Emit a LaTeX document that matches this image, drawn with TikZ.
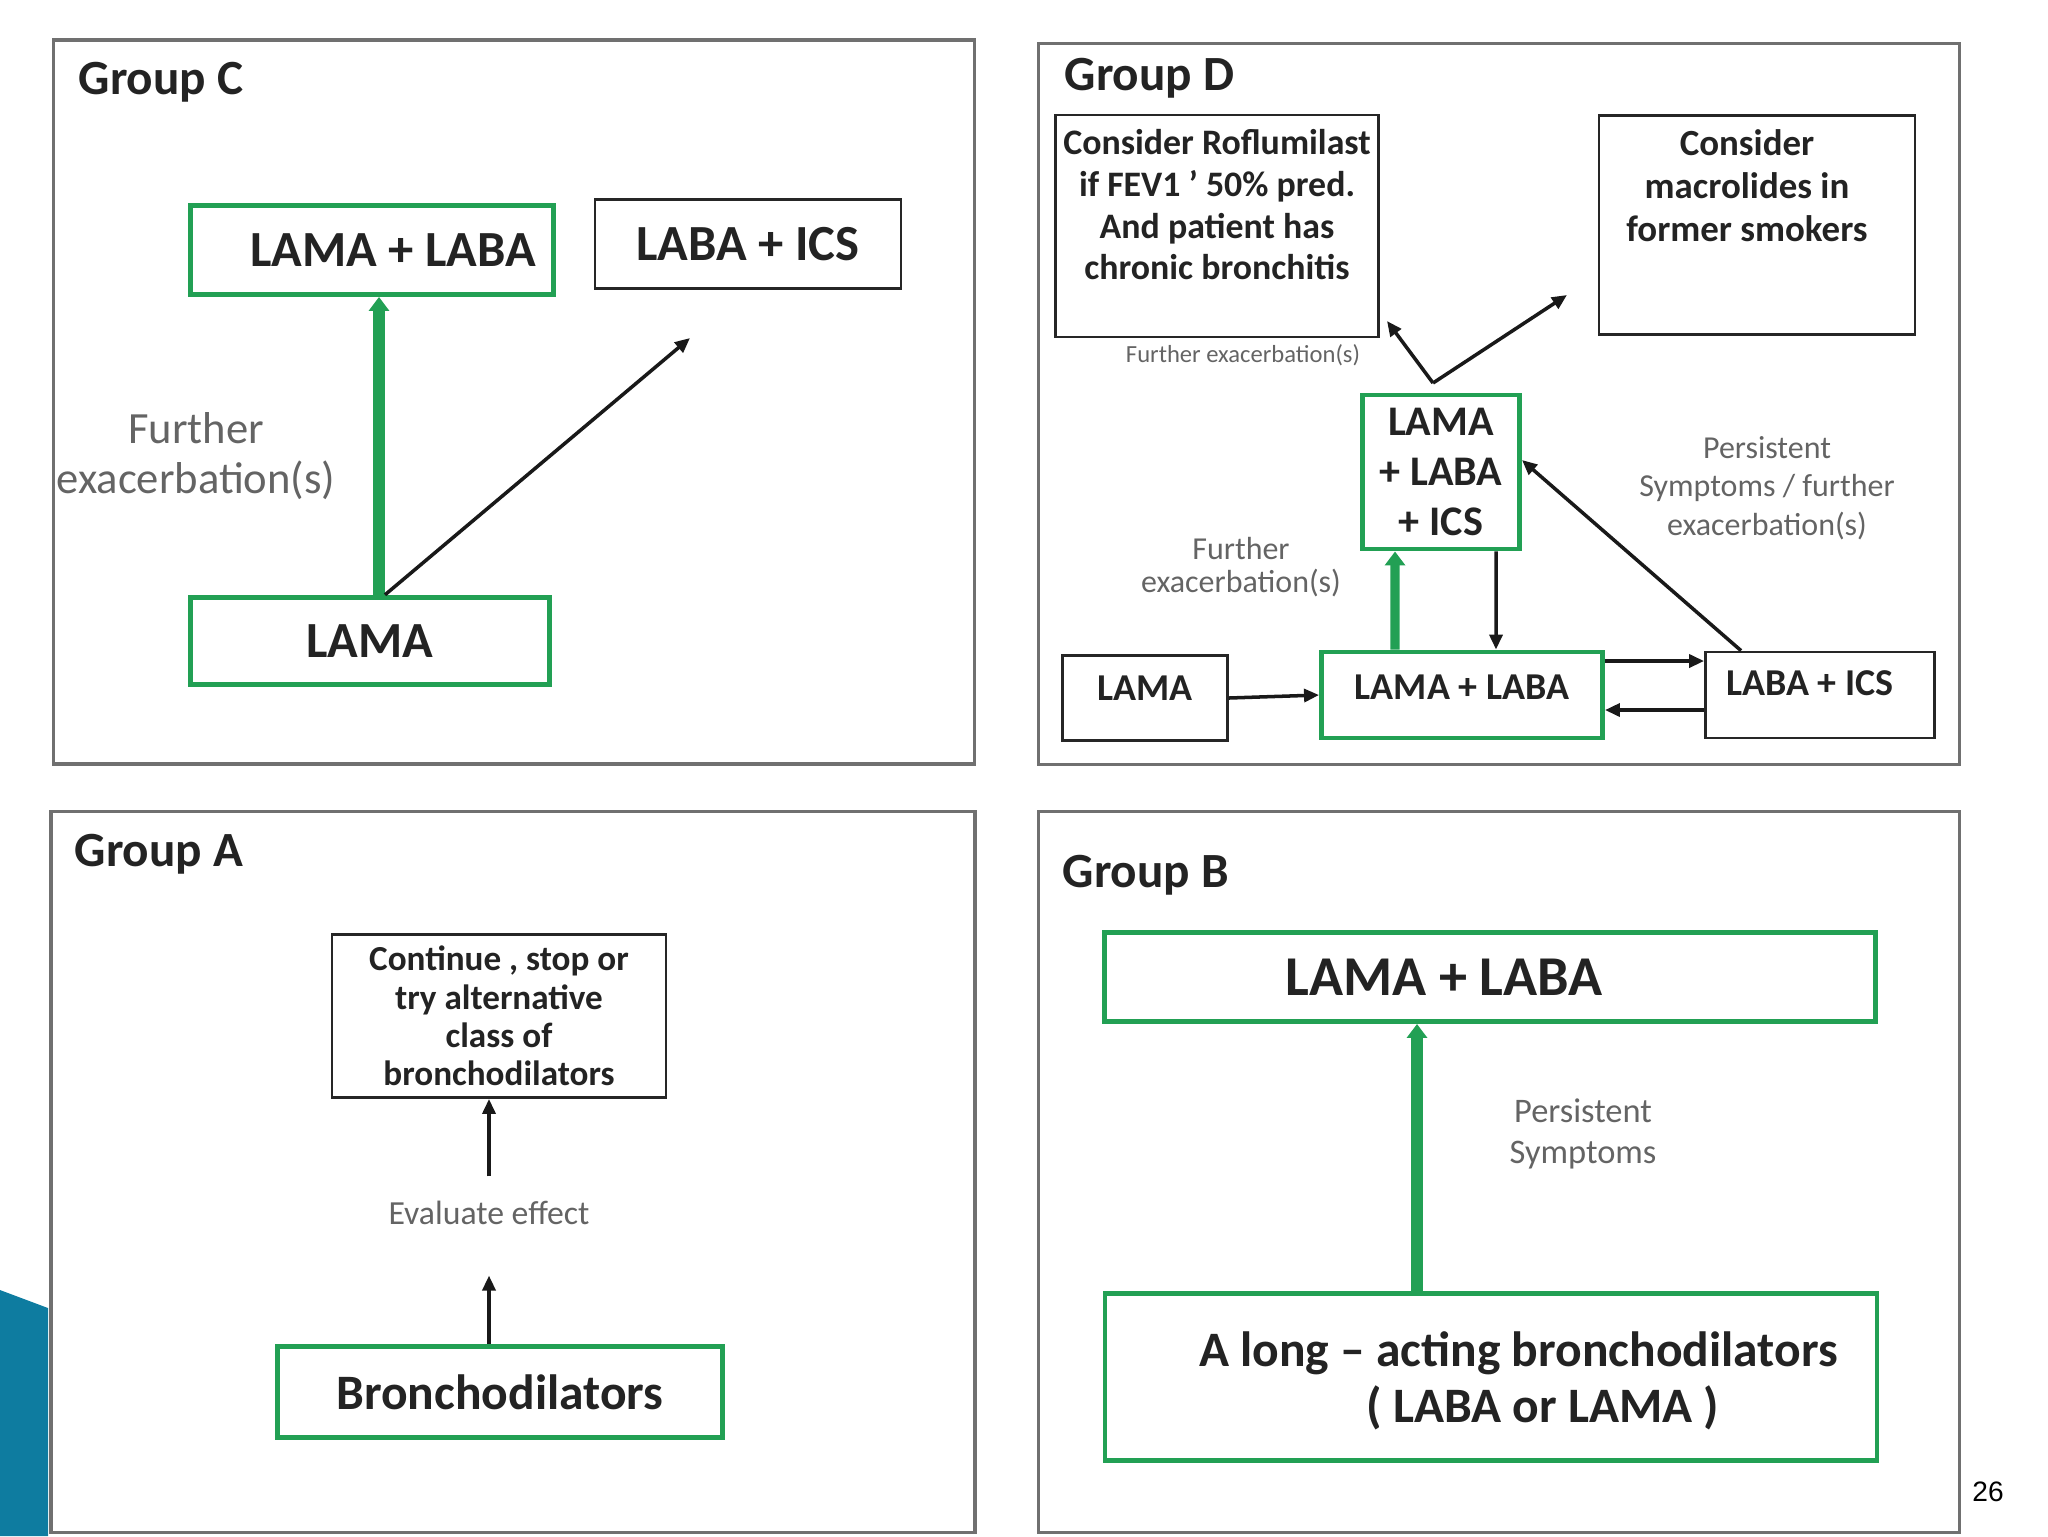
\documentclass[tikz,border=0pt]{standalone}
\usepackage{fontspec}
\setmainfont{Carlito}
\setsansfont{Liberation Sans}
\usetikzlibrary{arrows.meta}
\definecolor{boxgreen}{RGB}{34,160,84}
\definecolor{panelgray}{RGB}{112,112,112}
\definecolor{notegray}{RGB}{100,100,100}
\definecolor{txtdark}{RGB}{35,35,35}
\definecolor{slideblue}{RGB}{14,124,160}

\begin{document}
\begin{tikzpicture}[x=0.1mm,y=-0.1mm,
  panel/.style={draw=panelgray,line width=1.1pt,inner sep=0},
  title/.style={anchor=west,inner sep=0,text=txtdark,font=\fontsize{14}{16}\selectfont\bfseries},
  gbox/.style={draw=boxgreen,line width=1.4pt,inner sep=0,align=center,text=txtdark},
  bbox/.style={draw=black!85,line width=.8pt,inner sep=0,align=center,text=txtdark},
  note/.style={inner sep=0,align=center,text=notegray},
  garrow/.style={draw=boxgreen,line width=3.4pt,-{Triangle[length=1.4mm,width=2mm]}},
  barrow/.style={draw=black!90,line width=1pt,-{Triangle[length=1.5mm,width=1.3mm]}}]
\useasboundingbox (0,0) rectangle (2048,1536);
\fill[slideblue] (0,1290) -- (48,1308) -- (48,1536) -- (0,1536) -- cycle;

% Group C
\node[panel,minimum width=92.1mm,minimum height=72.4mm] (pc) at (514,402) {};
\node[title] (tc) at (78,82) {Group C};
\node[gbox,minimum width=36.3mm,minimum height=8.9mm,font=\fontsize{14.4}{16}\selectfont\bfseries] (c_dual) at (372,250) {\hspace*{4.2mm}LAMA + LABA};
\node[bbox,minimum width=30.6mm,minimum height=8.9mm,font=\fontsize{14.4}{16}\selectfont\bfseries] (c_ics) at (748,244) {LABA + ICS};
\node[gbox,minimum width=35.9mm,minimum height=8.75mm,font=\fontsize{14.4}{16}\selectfont\bfseries] (c_lama) at (370,641) {LAMA};
\node[note,font=\fontsize{12.7}{14.1}\selectfont] (c_note) at (196,456) {Further\\exacerbation(s)};
\coordinate (c_end) at (690,338);
\draw[garrow] ([xshift=.9mm]c_lama.north) -- ([xshift=.7mm]c_dual.south);
\draw[barrow] ([xshift=1.5mm]c_lama.north) -- (c_end);

% Group D
\node[panel,minimum width=92.1mm,minimum height=72.1mm] (pd) at (1499,404) {};
\node[title] (td) at (1064,78) {Group D};
\node[bbox,minimum width=32.3mm,minimum height=22.2mm,
  label={[inner sep=0,align=center,text=txtdark,font=\fontsize{10.2}{11.9}\selectfont\bfseries,anchor=north,yshift=-1.5mm]north:{Consider Roflumilast\\if FEV1 ' 50\% pred.\\And patient has\\chronic bronchitis}}] (d_rof) at (1217,226) {};
\node[bbox,minimum width=31.6mm,minimum height=21.9mm,
  label={[inner sep=0,align=center,text=txtdark,font=\fontsize{10.5}{12.2}\selectfont\bfseries,anchor=north,yshift=-1.5mm,xshift=-1mm]north:{Consider\\macrolides in\\former smokers}}] (d_mac) at (1757,225) {};
\node[note,font=\fontsize{7}{8}\selectfont] (d_note1) at (1243,355) {Further exacerbation(s)};
\node[gbox,minimum width=15.7mm,minimum height=15.4mm,font=\fontsize{12}{14.1}\selectfont\bfseries] (d_triple) at (1441,472) {LAMA\\+ LABA\\+ ICS};
\node[bbox,minimum width=16.5mm,minimum height=8.5mm,text depth=2mm,font=\fontsize{10.8}{12}\selectfont\bfseries] (d_lama) at (1145,698) {LAMA};
\node[gbox,minimum width=28.1mm,minimum height=8.6mm,text depth=1.6mm,font=\fontsize{10.8}{12}\selectfont\bfseries] (d_dual) at (1462,695) {LAMA + LABA};
\node[bbox,minimum width=22.9mm,minimum height=8.6mm,text depth=2.4mm,font=\fontsize{10.8}{12}\selectfont\bfseries] (d_ics) at (1820,695) {LABA + ICS\hspace*{2mm}};
\node[note,font=\fontsize{9.1}{9.6}\selectfont] (d_note2) at (1241,567) {Further\\exacerbation(s)};
\node[note,font=\fontsize{9.1}{11}\selectfont] (d_note3) at (1767,488) {Persistent\\Symptoms / further\\exacerbation(s)};
\coordinate (d_fork) at (1433,383);
\coordinate (d_to_rof) at (1387,321);
\coordinate (d_to_mac) at (1567,295);
\draw[barrow] (d_fork) -- (d_to_rof);
\draw[barrow] (d_fork) -- (d_to_mac);
\draw[garrow,line width=2.6pt] ([xshift=-6.7mm]d_dual.north) -- ([xshift=-4.6mm]d_triple.south);
\draw[barrow] ([xshift=5.5mm]d_triple.south) -- ([xshift=3.4mm]d_dual.north);
\draw[barrow] (d_lama.east) -- (d_dual.west);
\draw[barrow] ([yshift=3.4mm]d_dual.east) -- ([yshift=3.4mm]d_ics.west);
\draw[barrow] ([yshift=-1.5mm]d_ics.west) -- ([yshift=-1.5mm]d_dual.east);
\draw[barrow] ([xshift=-7.9mm]d_ics.north) -- ([yshift=1.2mm]d_triple.east);

% Group A
\node[panel,minimum width=92.35mm,minimum height=72.1mm] (pa) at (513,1172) {};
\node[title] (ta) at (74,854) {Group A};
\node[bbox,minimum width=33.4mm,minimum height=16.3mm,font=\fontsize{10}{10.9}\selectfont\bfseries] (a_eval) at (499,1016) {Continue , stop or\\try alternative\\class of\\bronchodilators};
\node[note,font=\fontsize{9.6}{11}\selectfont] (a_note) at (489,1213) {Evaluate effect};
\node[gbox,minimum width=44.5mm,minimum height=9.1mm,font=\fontsize{14.1}{16}\selectfont\bfseries] (a_bron) at (500,1392) {Bronchodilators};
\draw[barrow,shorten >=5mm] (a_note |- a_bron.north) -- (a_note.south);
\draw[barrow,shorten <=2.4mm] (a_note.north) -- (a_note |- a_eval.south);

% Group B
\node[panel,minimum width=92.1mm,minimum height=72.1mm] (pb) at (1499,1172) {};
\node[title] (tb) at (1062,875) {Group B};
\node[gbox,minimum width=77.1mm,minimum height=8.9mm,font=\fontsize{16}{18}\selectfont\bfseries] (b_dual) at (1490,977) {LAMA + LABA\hspace*{9.2mm}};
\node[gbox,minimum width=77.2mm,minimum height=16.7mm,text depth=-1mm,font=\fontsize{14.1}{16}\selectfont\bfseries] (b_long) at (1491,1377) {\hspace*{5.5mm}A long -- acting bronchodilators\\\hspace*{10.4mm}( LABA or LAMA )};
\node[note,font=\fontsize{9.8}{11.5}\selectfont] (b_note) at (1583,1134) {Persistent\\Symptoms};
\draw[garrow] ([xshift=-7.4mm]b_long.north) -- ([xshift=-7.3mm]b_dual.south);

\node[inner sep=0,font=\sffamily\fontsize{8}{9}\selectfont] (pnum) at (1988,1492) {26};
\end{tikzpicture}
\end{document}
